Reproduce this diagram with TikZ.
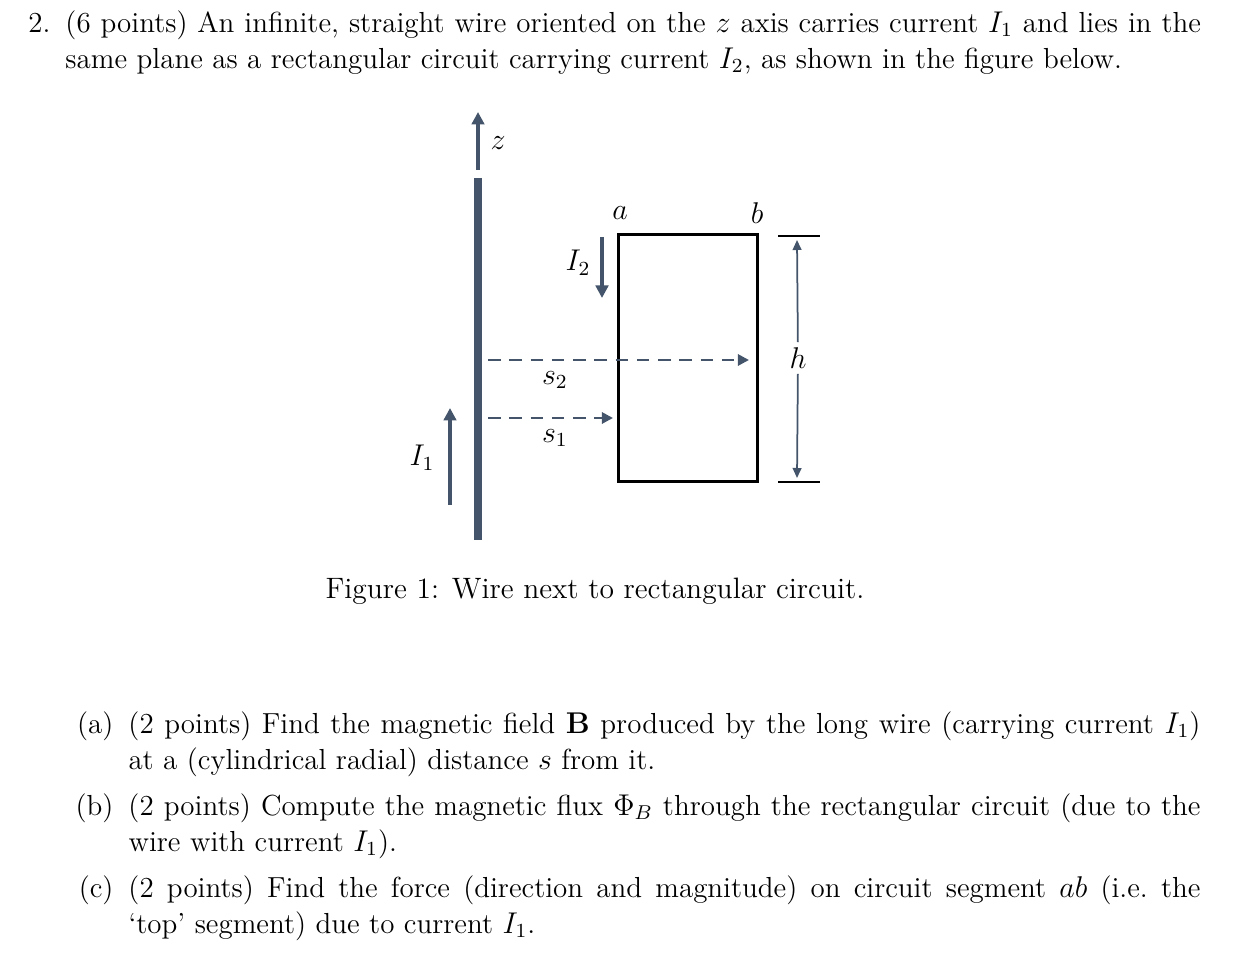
\documentclass[tikz,border=0pt]{standalone}
\usepackage{amsmath}
\usetikzlibrary{arrows.meta}
\definecolor{slate}{HTML}{44546A}
\tikzset{
  txt/.style={inner sep=0pt,anchor=north west,align=justify,font=\fontsize{11.6}{14.4}\selectfont},
  lbl/.style={inner sep=0pt,font=\fontsize{11.8}{14.4}\selectfont},
  sarrow/.style={draw=slate,line width=1.4pt,-{Triangle[length=5pt,width=5pt]}},
  darrow/.style={draw=slate,line width=1.1pt,dash pattern=on 5pt off 3.5pt,-{Triangle[length=4.5pt,width=4.5pt]}},
}
\begin{document}
\begin{tikzpicture}[x=0.4pt,y=-0.4pt]
\useasboundingbox (0,0) rectangle (1246,957);
% problem statement
\node[txt,text width=469pt] (p) at (28,10) {\hangindent=37\dimexpr0.4pt\relax\hangafter=1\noindent\makebox[37\dimexpr0.4pt\relax][l]{2.}(6 points) An infinite, straight wire oriented on the $z$ axis carries current $I_1$ and lies in the\linebreak same plane as a rectangular circuit carrying current $I_2$, as shown in the figure below.\par};
% wire
\draw[slate,line width=3pt] (478,178) coordinate (w1) -- (478,540) coordinate (w2);
\coordinate (z1) at (478,170); \coordinate (z2) at (478,112);
\draw[sarrow] (z1) -- (z2);
\node[lbl] (zl) at (498,143) {$z$};
% rectangle
\draw[black,line width=1.2pt] (618,235) rectangle (757,482);
\node[lbl] (a) at (620,213) {$a$};
\node[lbl] (b) at (757,213) {$b$};
\node[lbl] (i2) at (578,263) {$I_2$};
\coordinate (i2a) at (602,237); \coordinate (i2b) at (602,298);
\draw[sarrow] (i2a) -- (i2b);
% distances
\coordinate (d2a) at (488,360); \coordinate (d2b) at (749,360);
\draw[darrow] (d2a) -- (d2b);
\node[lbl] (s2) at (555,380) {$s_2$};
\coordinate (d1a) at (488,418); \coordinate (d1b) at (613,418);
\draw[darrow] (d1a) -- (d1b);
\node[lbl] (s1) at (555,438) {$s_1$};
\node[lbl] (i1) at (422,458) {$I_1$};
\coordinate (i1a) at (450,505); \coordinate (i1b) at (450,408);
\draw[sarrow] (i1a) -- (i1b);
% h dimension
\draw[black,line width=0.9pt] (778,236) -- (820,236);
\draw[black,line width=0.9pt] (778,482) -- (820,482);
\node[lbl,fill=white,inner sep=2pt] (h) at (798,358) {$h$};
\coordinate (ht) at (797,240); \coordinate (hb) at (797,478);
\draw[slate,line width=0.7pt,-{Triangle[length=4pt,width=3.5pt]}] (h) -- (ht);
\draw[slate,line width=0.7pt,-{Triangle[length=4pt,width=3.5pt]}] (h) -- (hb);
% caption
\node[lbl] (cap) at (595,591) {Figure 1: Wire next to rectangular circuit.};
% items
\node[txt,text width=428.8pt] (qa) at (128,711) {\llap{(a)\hspace{6pt}}(2 points) Find the magnetic field $\mathbf{B}$ produced by the long wire (carrying current $I_1$) at a (cylindrical radial) distance $s$ from it.\par};
\node[txt,text width=428.8pt] (qb) at (128,793) {\llap{(b)\hspace{6pt}}(2 points) Compute the magnetic flux $\Phi_B$ through the rectangular circuit (due to the\linebreak wire with current $I_1$).\par};
\node[txt,text width=428.8pt] (qc) at (128,875) {\llap{(c)\hspace{6pt}}(2 points) Find the force (direction and magnitude) on circuit segment $ab$ (i.e.\ the\linebreak `top' segment) due to current $I_1$.\par};
\end{tikzpicture}
\end{document}
